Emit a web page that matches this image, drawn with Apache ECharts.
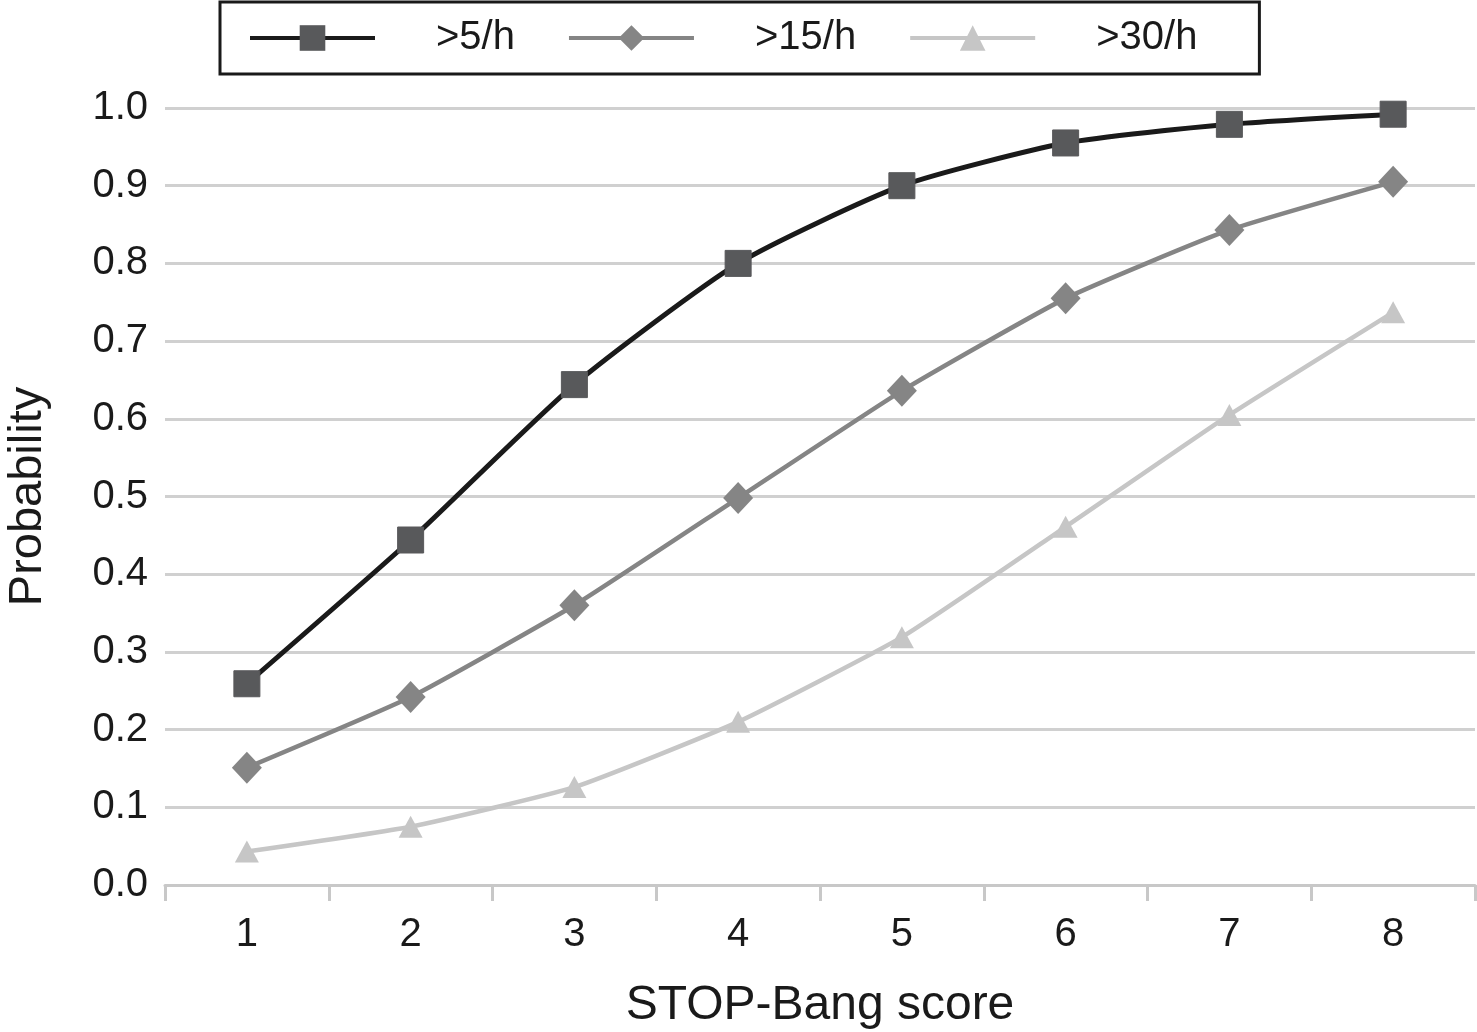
<!DOCTYPE html>
<html><head><meta charset="utf-8">
<script src="https://cdn.jsdelivr.net/npm/echarts@6/dist/echarts.min.js"></script>
<style>html,body{margin:0;padding:0;background:#fff}#c{width:1477px;height:1032px}</style>
</head><body><div id="c"></div>
<script>
const categories = ['1','2','3','4','5','6','7','8'];
const seriesNames = ['>5/h', '>15/h', '>30/h'];
const ahi5 = [0.259, 0.444, 0.644, 0.800, 0.900, 0.955, 0.979, 0.992];
const ahi15 = [0.151, 0.242, 0.360, 0.498, 0.636, 0.755, 0.843, 0.905];
const ahi30 = [0.043, 0.075, 0.126, 0.210, 0.319, 0.461, 0.605, 0.737];
const yTicks = [0, 0.1, 0.2, 0.3, 0.4, 0.5, 0.6, 0.7, 0.8, 0.9, 1.0];

const font = 'Liberation Sans, Arial, sans-serif';
const chart = echarts.init(document.getElementById('c'));
chart.setOption({
  animation: false,
  backgroundColor: '#fff',
  grid: { left: 165, right: 2, top: 108, bottom: 147, containLabel: false, outerBoundsMode: 'none' },
  legend: {
    left: 220, top: 2,
    padding: [16, 62, 16, 28],
    borderColor: '#1a1a1a', borderWidth: 3,
    itemWidth: 125, itemHeight: 32, itemGap: 52,
    lineStyle: { width: 4 },
    textStyle: { fontFamily: font, fontSize: 40, color: '#1a1a1a', padding: [0, 0, 0, 56] },
    data: seriesNames
  },
  xAxis: {
    type: 'category', data: categories, boundaryGap: true,
    name: 'STOP-Bang score', nameLocation: 'middle', nameGap: 97,
    nameTextStyle: { fontFamily: font, fontSize: 48, color: '#1a1a1a' },
    axisLine: { lineStyle: { color: '#c8c8c8', width: 3 } },
    axisTick: { show: true, alignWithLabel: false, length: 16, lineStyle: { color: '#c8c8c8', width: 3 } },
    axisLabel: { fontFamily: font, fontSize: 40, color: '#1a1a1a', margin: 30 }
  },
  yAxis: {
    type: 'value', min: 0, max: 1, interval: 0.1,
    name: 'Probability', nameLocation: 'middle', nameGap: 113, nameRotate: 90,
    nameTextStyle: { fontFamily: font, fontSize: 47, color: '#1a1a1a' },
    axisLine: { show: false }, axisTick: { show: false },
    axisLabel: { fontFamily: font, fontSize: 40, color: '#1a1a1a', margin: 17,
      formatter: v => v.toFixed(1) },
    splitLine: { lineStyle: { color: '#d0d0d0', width: 3 } }
  },
  series: [
    { name: seriesNames[0], type: 'line', data: ahi5, smooth: 0.2,
      symbol: 'rect', symbolSize: 26,
      lineStyle: { color: '#1a1a1a', width: 5 },
      itemStyle: { color: '#58595b', borderColor: '#58595b' } },
    { name: seriesNames[1], type: 'line', data: ahi15, smooth: 0.15,
      symbol: 'diamond', symbolSize: [30, 32],
      lineStyle: { color: '#858585', width: 4.5 },
      itemStyle: { color: '#858585' } },
    { name: seriesNames[2], type: 'line', data: ahi30, smooth: 0.15,
      symbol: 'triangle', symbolSize: [24, 22],
      lineStyle: { color: '#c6c6c6', width: 4.5 },
      itemStyle: { color: '#c6c6c6' } }
  ]
});
</script></body></html>
